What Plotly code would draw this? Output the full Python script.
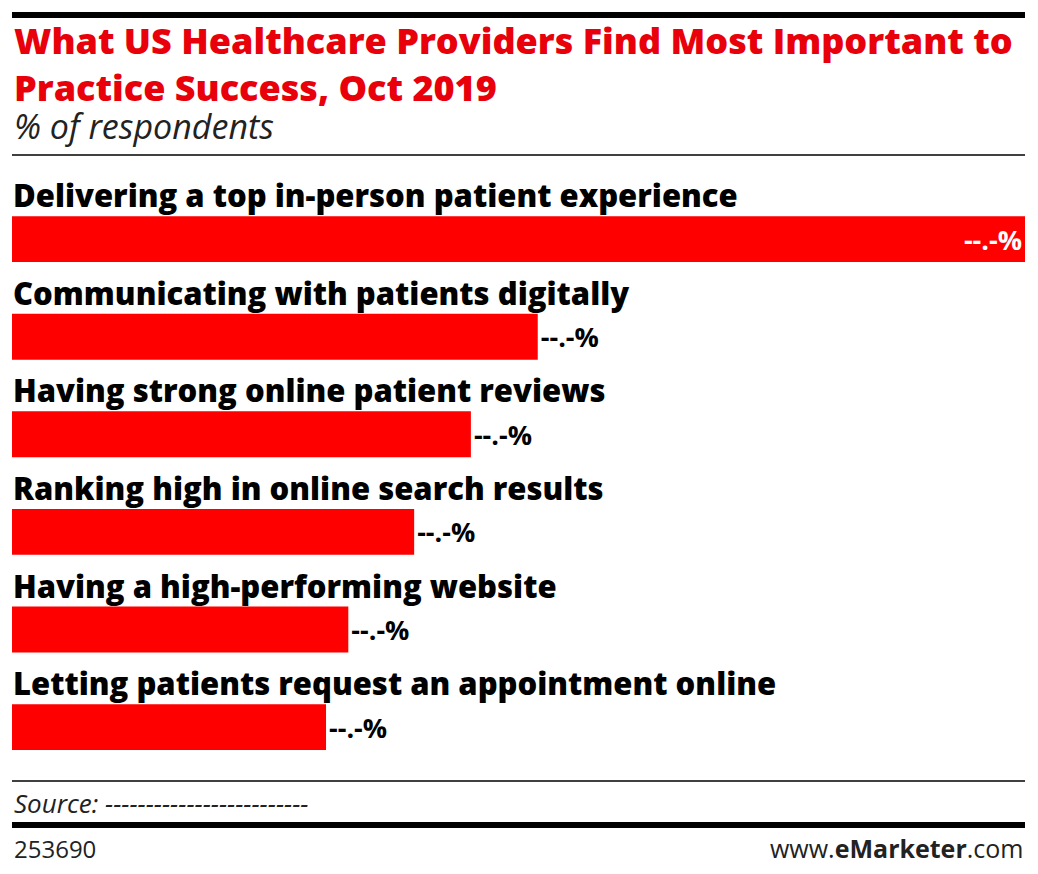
import plotly.graph_objects as go

categories = ["Delivering a top in-person patient experience",
              "Communicating with patients digitally",
              "Having strong online patient reviews",
              "Ranking high in online search results",
              "Having a high-performing website",
              "Letting patients request an appointment online"]
values = [100, 51.9, 45.3, 39.7, 33.2, 31.0]
value_labels = ["--.-%"] * 6

W, H = 1038, 874
OFF = 8
def py(p): return 1 - (p - OFF) / H
def px(p): return (p - OFF) / W

ypos = list(range(len(categories)))
fig = go.Figure()
fig.add_trace(go.Bar(
    x=values, y=ypos, orientation="h", width=0.47,
    marker=dict(color="#ff0000", line=dict(width=0)),
    text=value_labels, textposition=["inside"] + ["outside"] * 5,
    insidetextanchor="end",
    textfont=dict(family="Open Sans", size=27, color=["white"] + ["black"] * 5, weight="bold"),
    cliponaxis=False, hoverinfo="skip"))

for i, c in enumerate(categories):
    fig.add_annotation(x=0, y=i, xref="x", yref="y", text=c, showarrow=False,
                       xanchor="left", yanchor="middle", yshift=44, xshift=-1,
                       font=dict(family="Open Sans", size=31, color="black", weight=800))

fig.add_annotation(x=px(12), y=py(64), xref="paper", yref="paper", showarrow=False,
                   xanchor="left", yanchor="middle", align="left",
                   text="What US Healthcare Providers Find Most Important to<br>Practice Success, Oct 2019",
                   font=dict(family="Open Sans", size=36, color="#e8000b", weight=800))
fig.add_annotation(x=px(12), y=py(126), xref="paper", yref="paper", showarrow=False,
                   xanchor="left", yanchor="middle", text="<i>% of respondents</i>",
                   font=dict(family="Open Sans", size=34, color="#222"))
fig.add_annotation(x=px(12), y=py(803), xref="paper", yref="paper", showarrow=False,
                   xanchor="left", yanchor="middle", text="<i>Source: -------------------------</i>",
                   font=dict(family="Open Sans", size=26, color="#222"))
fig.add_annotation(x=px(12), y=py(848), xref="paper", yref="paper", showarrow=False,
                   xanchor="left", yanchor="middle", text="253690",
                   font=dict(family="Open Sans", size=24, color="#222"))
fig.add_annotation(x=px(1025), y=py(848), xref="paper", yref="paper", showarrow=False,
                   xanchor="right", yanchor="middle", text="www.<b>eMarketer</b>.com",
                   font=dict(family="Open Sans", size=25, color="#222"))

for y0, w in [(15, 6), (155, 1.5), (781, 1.5), (825, 6)]:
    fig.add_shape(type="line", xref="paper", yref="paper", x0=px(12), x1=px(1025),
                  y0=py(y0), y1=py(y0), line=dict(color="black", width=w))

fig.update_layout(
    width=W, height=H, margin=dict(l=0, r=0, t=0, b=0),
    paper_bgcolor="white", plot_bgcolor="white", showlegend=False,
    xaxis=dict(domain=[px(12), px(1025)], range=[0, 100], visible=False),
    yaxis=dict(domain=[py(775), py(160)], range=[5.49, -0.81], visible=False),
)
fig.write_html("out.html")
